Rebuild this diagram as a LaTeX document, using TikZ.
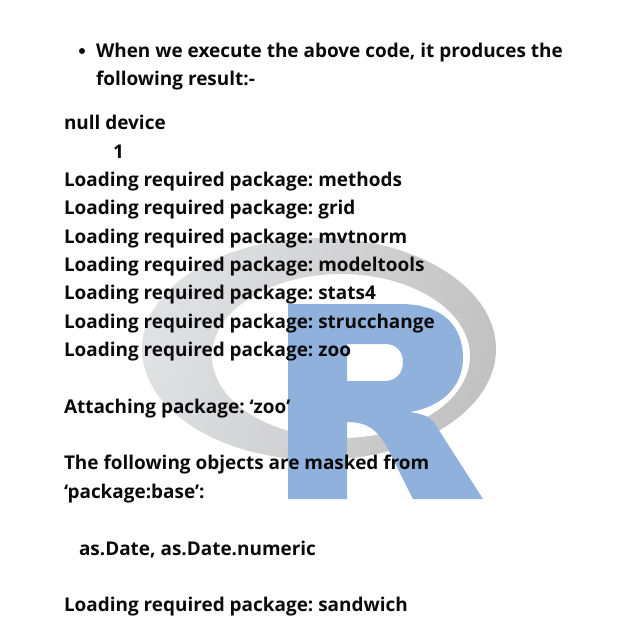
\documentclass[tikz,border=0pt]{standalone}
\usepackage{fontspec}
\setmainfont{Open Sans}[BoldFont={Open Sans Bold}]
\frenchspacing
\definecolor{rblue}{HTML}{8FB1DC}
\definecolor{ringlight}{HTML}{E0E1E3}
\definecolor{ringdark}{HTML}{C2C2C2}
\definecolor{ink}{HTML}{0A0A0A}
\tikzset{
  txt/.style={anchor=base west,inner sep=0pt,outer sep=0pt,text=ink,font=\fontsize{18.95}{24}\selectfont\bfseries\frenchspacing},
}
\begin{document}
\begin{tikzpicture}[x=1pt,y=-1pt]
\useasboundingbox (0,0) rectangle (638,638);
\fill[white] (0,0) rectangle (638,638);
% R logo ring
\shade[even odd rule,left color=ringlight,right color=ringdark,shading angle=70]
  (319,349) ellipse [x radius=177,y radius=111]
  (341,356) ellipse [x radius=129,y radius=82];
% R logo letter
\fill[rblue,even odd rule]
  (288,304) -- (400,304)
  .. controls (445,304) and (463,328) .. (463,358)
  .. controls (463,388) and (440,407) .. (410,412)
  .. controls (422,414) and (428,416) .. (433,421)
  -- (483,499) -- (413,499) -- (387,447)
  .. controls (377,430) and (368,422) .. (347,422)
  -- (347,499) -- (288,499) -- cycle
  (347,344) -- (347,381) -- (385,381)
  .. controls (396,381) and (403,373) .. (403,362)
  .. controls (403,351) and (396,344) .. (385,344) -- cycle;
% text
\fill[ink] (82,51) circle (3);
\node[txt] (t1) at (96,57) {When we execute the above code, it produces the};
\node[txt] (t2) at (96,85) {following result:-};
\node[txt] (t3) at (64,129) {null device};
\node[txt] (t4) at (113,158) {1};
\node[txt] (t5) at (64,186) {Loading required package: methods};
\node[txt] (t6) at (64,214) {Loading required package: grid};
\node[txt] (t7) at (64,243) {Loading required package: mvtnorm};
\node[txt] (t8) at (64,271) {Loading required package: modeltools};
\node[txt] (t9) at (64,299) {Loading required package: stats4};
\node[txt] (t10) at (64,328) {Loading required package: strucchange};
\node[txt] (t11) at (64,356) {Loading required package: zoo};
\node[txt] (t12) at (64,413) {Attaching package: ‘zoo’};
\node[txt] (t13) at (64,469) {The following objects are masked from};
\node[txt] (t14) at (64,498) {‘package:base’:};
\node[txt] (t15) at (79,555) {as.Date, as.Date.numeric};
\node[txt] (t16) at (64,611) {Loading required package: sandwich};
\end{tikzpicture}
\end{document}
